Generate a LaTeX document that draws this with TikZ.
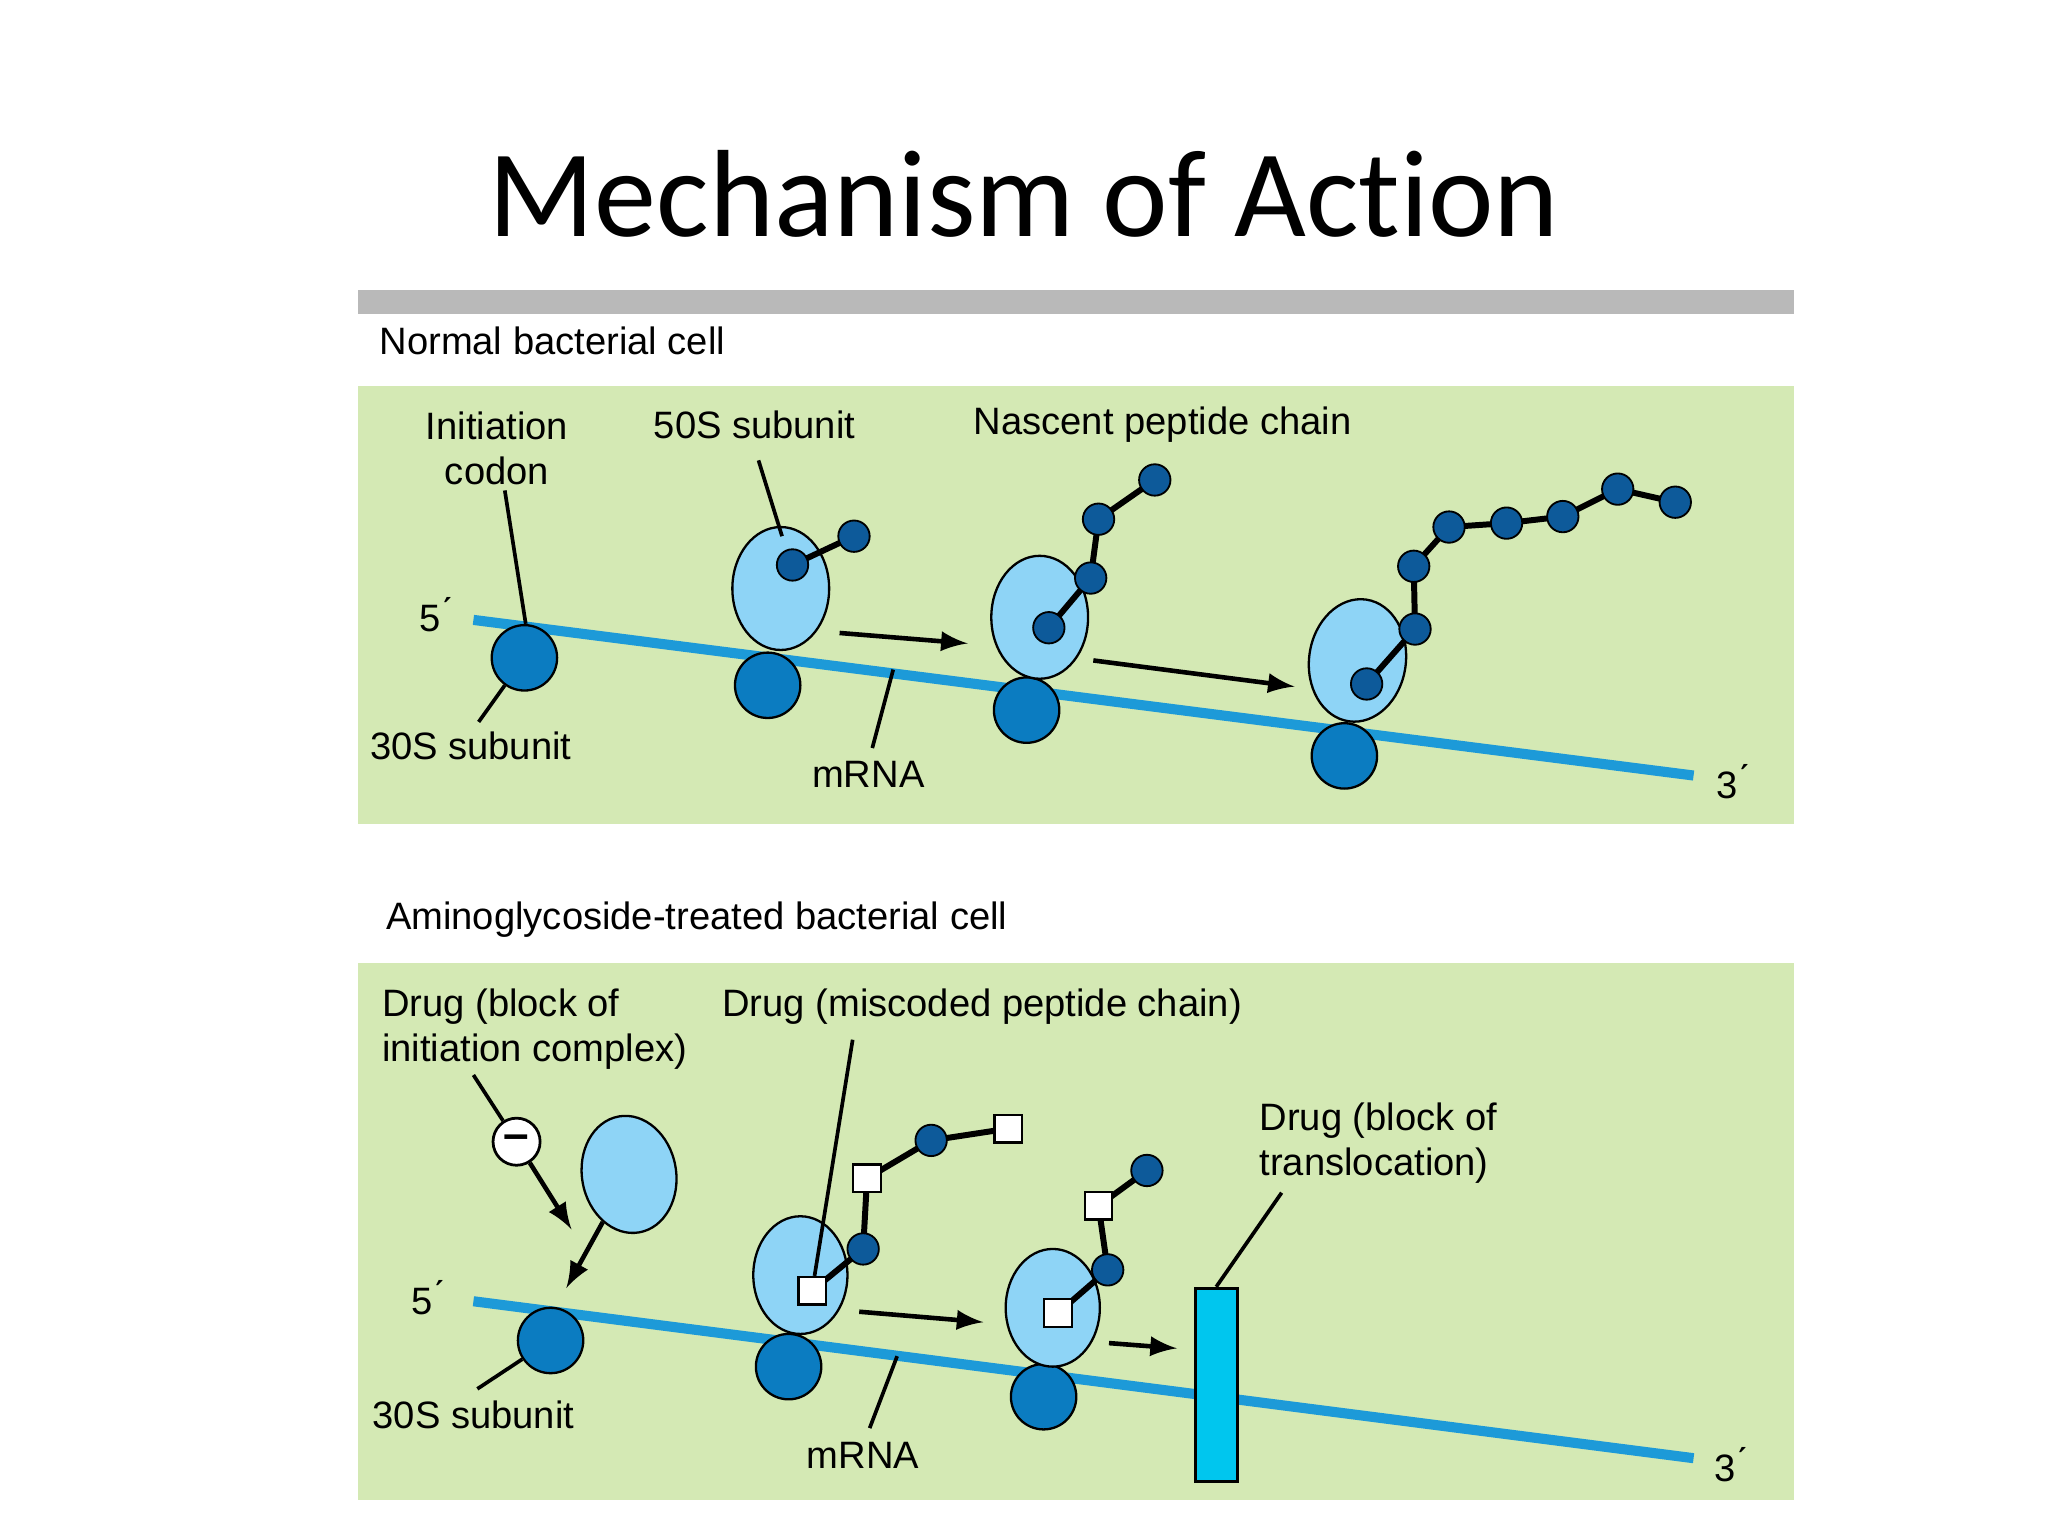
\documentclass[tikz,border=0pt]{standalone}
\usepackage{fontspec}
\setmainfont{Liberation Sans}
\newfontfamily\titlefont[Ligatures={NoCommon}]{Carlito}
\definecolor{panelgreen}{HTML}{D4E9B4}
\definecolor{riboblue}{HTML}{8ED4F6}
\definecolor{subblue}{HTML}{0B7CC1}
\definecolor{rnablue}{HTML}{1D9AD8}
\definecolor{dotblue}{HTML}{0D5A9A}
\definecolor{drugcyan}{HTML}{00C6EE}
\tikzset{
  lab/.style={font=\fontsize{8.3}{9.7}\selectfont, align=center, inner sep=1pt},
  sub30/.style={circle, draw=black, line width=0.5pt, fill=subblue, minimum size=0.5cm},
  sub50/.style={ellipse, draw=black, line width=0.5pt, fill=riboblue, minimum width=0.74cm, minimum height=0.94cm},
  aa/.style={circle, draw=black, line width=0.4pt, fill=dotblue, minimum size=0.24cm, inner sep=0pt},
  bad/.style={rectangle, draw=black, line width=0.5pt, fill=white, minimum size=0.21cm, inner sep=0pt},
  pep/.style={line width=1.3pt},
  ptr/.style={line width=0.8pt},
  move/.style={line width=1pt, -latex},
  rna/.style={rnablue, line width=2.2pt}
}
\usetikzlibrary{shapes.geometric}
\begin{document}
\begin{tikzpicture}[x=1cm,y=-1cm]
  \useasboundingbox[fill=white] (0,0) rectangle (15.66,11.745);
  \node (title) at (7.83,1.48) {\titlefont\fontsize{27}{31}\selectfont Mechanism of Action};
  \fill[gray!55] (2.74,2.22) rectangle (13.72,2.40);
  \node[lab, anchor=west] (normal) at (2.86,2.61) {Normal bacterial cell};
  \fill[panelgreen] (2.74,2.95) rectangle (13.72,6.30);
  \node[lab, anchor=west] (treated) at (2.91,7.03) {Aminoglycoside-treated bacterial cell};
  \fill[panelgreen] (2.74,7.36) rectangle (13.72,11.47);

  % normal cell
  \coordinate (r5) at (3.62,4.74);
  \coordinate (r3) at (12.95,5.93);
  \draw[rna] (r5) -- (r3);
  \node[lab] (five) at (3.33,4.70) {5\'{}};
  \node[lab] (three) at (13.25,5.98) {3\'{}};
  \node[sub30] (sA) at (4.01,5.03) {};
  \node[sub30] (sB) at (5.87,5.24) {};
  \node[sub30] (sC) at (7.85,5.43) {};
  \node[sub30] (sD) at (10.28,5.78) {};
  \node[sub50] (lB) at (5.97,4.50) {};
  \node[sub50] (lC) at (7.95,4.72) {};
  \node[sub50, rotate=-8] (lD) at (10.38,5.05) {};
  \draw[pep] (6.06,4.32) -- (6.53,4.10);
  \node[aa] (b1) at (6.06,4.32) {};
  \node[aa] (b2) at (6.53,4.10) {};
  \draw[pep] (8.02,4.80) -- (8.34,4.42) -- (8.40,3.97) -- (8.83,3.67);
  \foreach \p/\q [count=\i] in {8.02/4.80, 8.34/4.42, 8.40/3.97, 8.83/3.67}
    \node[aa] (c\i) at (\p,\q) {};
  \draw[pep] (10.45,5.23) -- (10.82,4.81) -- (10.81,4.33) -- (11.08,4.03) -- (11.52,4.00) -- (11.95,3.95) -- (12.37,3.74) -- (12.81,3.84);
  \foreach \p/\q [count=\i] in {10.45/5.23, 10.82/4.81, 10.81/4.33, 11.08/4.03, 11.52/4.00, 11.95/3.95, 12.37/3.74, 12.81/3.84}
    \node[aa] (d\i) at (\p,\q) {};
  \coordinate (m1a) at (6.42,4.84); \coordinate (m1b) at (7.40,4.92);
  \coordinate (m2a) at (8.36,5.05); \coordinate (m2b) at (9.90,5.25);
  \draw[move] (m1a) -- (m1b);
  \draw[move] (m2a) -- (m2b);
  \node[lab] (init) at (3.80,3.43) {Initiation\\codon};
  \coordinate (initp) at (4.02,4.77);
  \draw[ptr] (3.86,3.75) -- (initp);
  \node[lab] (fifty) at (5.77,3.25) {50S subunit};
  \draw[ptr] (5.80,3.52) -- (5.98,4.10);
  \node[lab] (nascent) at (8.89,3.25) {Nascent peptide chain};
  \node[lab] (thirty) at (3.60,5.70) {30S subunit};
  \draw[ptr] (3.66,5.52) -- (sA);
  \node[lab] (mrna) at (6.64,5.92) {mRNA};
  \coordinate (mrnap) at (6.83,5.12);
  \draw[ptr] (6.67,5.72) -- (mrnap);

  % treated cell
  \coordinate (t5) at (3.62,9.95);
  \coordinate (t3) at (12.95,11.15);
  \draw[rna] (t5) -- (t3);
  \node[lab] (tfive) at (3.27,9.92) {5\'{}};
  \node[lab] (tthree) at (13.23,11.20) {3\'{}};
  \node[sub30] (tA) at (4.21,10.25) {};
  \node[sub30] (tB) at (6.03,10.45) {};
  \node[sub30] (tC) at (7.98,10.68) {};
  \node[sub50, minimum width=0.72cm, minimum height=0.9cm, rotate=10] (free) at (4.81,8.98) {};
  \node[sub50, minimum width=0.72cm, minimum height=0.9cm] (tlB) at (6.12,9.75) {};
  \node[sub50, minimum width=0.72cm, minimum height=0.9cm] (tlC) at (8.05,10.00) {};
  \draw[pep] (6.21,9.87) -- (6.60,9.55) -- (6.63,9.01) -- (7.12,8.72) -- (7.71,8.63);
  \node[bad] (e1) at (6.21,9.87) {};
  \node[aa] (e2) at (6.60,9.55) {};
  \node[bad] (e3) at (6.63,9.01) {};
  \node[aa] (e4) at (7.12,8.72) {};
  \node[bad] (e5) at (7.71,8.63) {};
  \draw[pep] (8.09,10.04) -- (8.47,9.71) -- (8.40,9.22) -- (8.77,8.95);
  \node[bad] (f1) at (8.09,10.04) {};
  \node[aa] (f2) at (8.47,9.71) {};
  \node[bad] (f3) at (8.40,9.22) {};
  \node[aa] (f4) at (8.77,8.95) {};
  \node[circle, draw=black, line width=0.6pt, fill=white, minimum size=0.36cm, inner sep=0pt, font=\bfseries] (minus) at (3.95,8.73) {--};
  \coordinate (ta) at (4.37,9.40);
  \coordinate (tb) at (4.33,9.85);
  \draw[ptr] (3.62,8.22) -- (minus);
  \draw[move] (minus) -- (ta);
  \draw[move] (free) -- (tb);
  \node[lab, align=left, anchor=west] (dinit) at (2.88,7.87) {Drug (block of\\initiation complex)};
  \node[lab] (dmis) at (7.51,7.70) {Drug (miscoded peptide chain)};
  \draw[ptr] (6.52,7.95) -- (e1);
  \coordinate (n1a) at (6.57,10.03); \coordinate (n1b) at (7.52,10.11);
  \coordinate (n2a) at (8.48,10.27); \coordinate (n2b) at (9.00,10.31);
  \draw[move] (n1a) -- (n1b);
  \draw[move] (n2a) -- (n2b);
  \node[draw=black, line width=0.6pt, fill=drugcyan, minimum width=0.32cm, minimum height=1.48cm, inner sep=0pt] (block) at (9.30,10.59) {};
  \node[lab, align=left] (dtrans) at (10.54,8.74) {Drug (block of\\translocation)};
  \draw[ptr] (block.north) -- (9.80,9.12);
  \node[lab] (tthirty) at (3.62,10.82) {30S subunit};
  \draw[ptr] (3.65,10.62) -- (tA);
  \node[lab] (tmrna) at (6.60,11.13) {mRNA};
  \coordinate (tmrnap) at (6.86,10.37);
  \draw[ptr] (6.65,10.92) -- (tmrnap);
\end{tikzpicture}
\end{document}
